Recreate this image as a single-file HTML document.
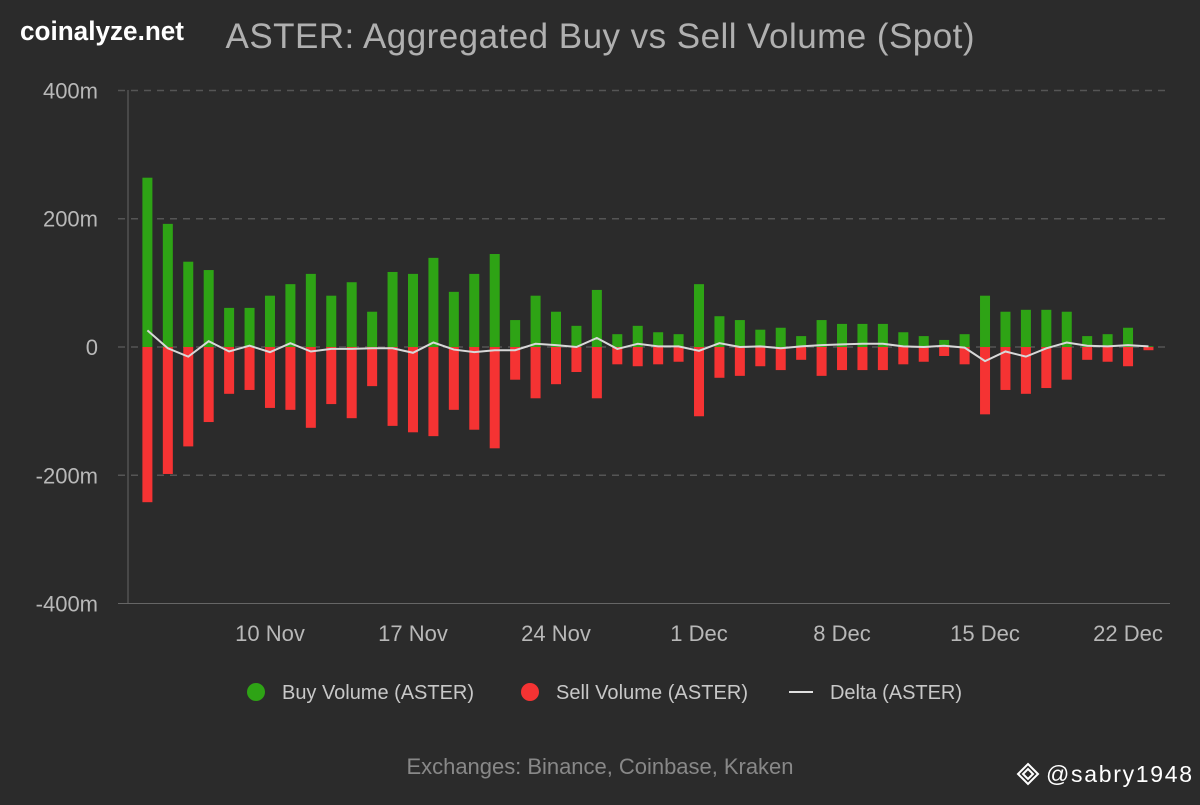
<!DOCTYPE html>
<html><head><meta charset="utf-8"><style>
body{margin:0;background:#2b2b2b;width:1200px;height:800px;overflow:hidden;font-family:"Liberation Sans",sans-serif}
</style></head><body>
<svg id="c" width="1200" height="800" xmlns="http://www.w3.org/2000/svg">
<rect width="1200" height="800" fill="#2b2b2b"/>
<text x="20" y="40" fill="#ffffff" font-size="27" font-weight="bold" textLength="164" lengthAdjust="spacingAndGlyphs" font-family="Liberation Sans, sans-serif">coinalyze.net</text>
<text x="600" y="48" text-anchor="middle" fill="#b0b0b0" font-size="35" textLength="749" font-family="Liberation Sans, sans-serif">ASTER: Aggregated Buy vs Sell Volume (Spot)</text>
<g id="grid"></g><g id="bars"></g><g id="line"></g><g id="axes"></g>
<g>
<g><circle cx="256" cy="692" r="9" fill="#2ea315"/><text x="282" y="699" fill="#c8c8c8" font-size="20" textLength="192">Buy Volume (ASTER)</text></g>
<g><circle cx="530" cy="692" r="9" fill="#f53333"/><text x="556" y="699" fill="#c8c8c8" font-size="20" textLength="192">Sell Volume (ASTER)</text></g>
<g><line x1="789" y1="692" x2="813" y2="692" stroke="#e0e0e0" stroke-width="2"/><text x="830" y="699" fill="#c8c8c8" font-size="20" textLength="132">Delta (ASTER)</text></g>
</g>
<text x="600" y="774" text-anchor="middle" fill="#888" font-size="22" textLength="387">Exchanges: Binance, Coinbase, Kraken</text>
<g><path d="M1028 764 l10 10 -10 10 -10 -10z M1028 769 l5 5 -5 5 -5 -5z" fill="none" stroke="#fff" stroke-width="2"/><text x="1046" y="782" fill="#fff" font-size="23" textLength="146">@sabry1948</text></g>
</svg>
<script>
const buy=[264,192,133,120,61,61,80,98,114,80,101,55,117,114,139,86,114,145,42,80,55,33,89,20,33,23,20,98,48,42,27,30,17,42,36,36,36,23,17,11,20,80,55,58,58,55,17,20,30,1];
const sell=[-242,-198,-155,-117,-73,-67,-95,-98,-126,-89,-111,-61,-123,-133,-139,-98,-129,-158,-51,-80,-58,-39,-80,-27,-30,-27,-23,-108,-48,-45,-30,-36,-20,-45,-36,-36,-36,-27,-23,-14,-27,-105,-67,-73,-64,-51,-20,-23,-30,-5];
const delta=[26,-2,-15,9,-7,2,-8,6,-7,-3,-3,-2,-2,-9,7,-4,-8,-5,-5,5,3,0,14,-3,5,1,1,-6,6,0,1,-2,1,3,4,5,5,1,0,2,-1,-22,-7,-15,-2,7,2,1,3,1];
const yTicks=[400,200,0,-200,-400];
const yTickLabels=["400m","200m","0","-200m","-400m"];
const xTickDays=[6,13,20,27,34,41,48];
const xTickLabels=["10 Nov","17 Nov","24 Nov","1 Dec","8 Dec","15 Dec","22 Dec"];
const NS="http://www.w3.org/2000/svg";
const y=v=>347-v*0.6413;
const x=i=>147.4+i*20.43;
function mk(t,a,p){const e=document.createElementNS(NS,t);for(const k in a)e.setAttribute(k,a[k]);p.appendChild(e);return e;}
const G=document.getElementById('grid'),B=document.getElementById('bars'),L=document.getElementById('line'),A=document.getElementById('axes');
yTicks.forEach((v,i)=>{
  const ln=mk('line',{x1:118,x2:1170,y1:y(v),y2:y(v),stroke:v===-400?'#666':'#555','stroke-width':v===-400?1:1.5,'stroke-dasharray':v===-400?'':'7,6'},G);
  
  
  const t=mk('text',{x:98,y:y(v)+8,'text-anchor':'end',fill:'#b8b8b8','font-size':22,'font-family':'Liberation Sans, sans-serif'},A);
  t.textContent=yTickLabels[i];
  
  
});
const ax=mk('line',{x1:128,x2:128,y1:90,y2:603,stroke:'#666'},A);


xTickDays.forEach((d,i)=>{
  const t=mk('text',{x:x(d),y:641,'text-anchor':'middle',fill:'#b8b8b8','font-size':22,'font-family':'Liberation Sans, sans-serif'},A);
  t.textContent=xTickLabels[i];
  
  
});
buy.forEach((v,i)=>{
  const r=mk('rect',{x:x(i)-5,y:y(v),width:10,height:Math.max(0,y(0)-y(v)),fill:'#2ea315'},B);
  
  
});
sell.forEach((v,i)=>{
  const r=mk('rect',{x:x(i)-5,y:y(0),width:10,height:Math.max(0,y(v)-y(0)),fill:'#f53333'},B);
  
  
});
const pl=mk('polyline',{points:delta.map((v,i)=>x(i)+','+y(v)).join(' '),fill:'none',stroke:'#d8d8d8','stroke-width':2},L);


</script>
</body></html>
